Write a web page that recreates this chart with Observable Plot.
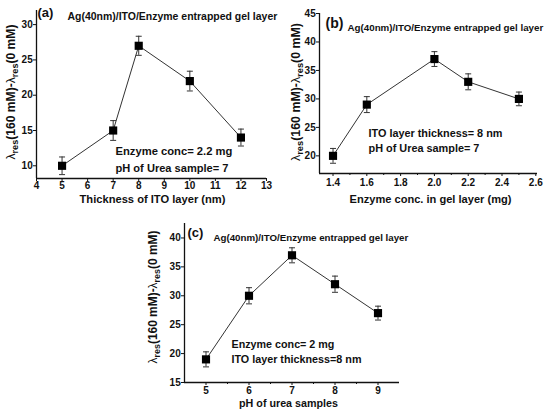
<!DOCTYPE html>
<html><head><meta charset="utf-8">
<script src="https://cdn.jsdelivr.net/npm/d3@7"></script>
<script src="https://cdn.jsdelivr.net/npm/@observablehq/plot@0.6"></script>
<style>
body{margin:0;background:#fff}
#wrap{position:relative;width:550px;height:411px;overflow:hidden;font-family:"Liberation Sans",Arial,sans-serif}
#wrap svg{position:absolute}
</style>
</head><body><div id="wrap"></div>
<script>
// Panel (a): thickness of ITO layer
const thicknessNm = [5, 7, 8, 10, 12];
const shiftA = [10, 15, 27, 22, 14];
const errA = [1.25, 1.4, 1.35, 1.4, 1.2];
const xTicksA = [4, 5, 6, 7, 8, 9, 10, 11, 12, 13];
const yTicksA = [10, 15, 20, 25, 30];

// Panel (b): enzyme concentration
const enzymeMg = [1.4, 1.6, 2.0, 2.2, 2.5];
const shiftB = [20, 29, 37, 33, 30];
const errB = [1.3, 1.4, 1.3, 1.4, 1.2];
const xTicksB = [1.4, 1.6, 1.8, 2.0, 2.2, 2.4, 2.6];
const xMinorB = [1.5, 1.7, 1.9, 2.1, 2.3, 2.5];
const yTicksB = [20, 25, 30, 35, 40, 45];

// Panel (c): pH of urea samples
const phValues = [5, 6, 7, 8, 9];
const shiftC = [19, 30, 37, 32, 27];
const errC = [1.3, 1.4, 1.3, 1.4, 1.2];
const xTicksC = [5, 6, 7, 8, 9];
const xMinorC = [5.5, 6.5, 7.5, 8.5];
const yTicksC = [15, 20, 25, 30, 35, 40];

const TITLE = "Ag(40nm)/ITO/Enzyme entrapped gel layer";
const FONT = '"Liberation Sans", Arial, sans-serif';
const INK = "#111";
const cap = {draw(ctx, size) { const r = Math.sqrt(size / Math.PI); ctx.moveTo(-r, 0); ctx.lineTo(r, 0); }};

function panel(c) {
  const data = c.x.map((x, i) => ({x, y: c.y[i], e: c.e[i]}));
  const at = (p) => ({frameAnchor: "top-left", dx: p[0] - c.ml, dy: p[1] - c.mt});
  const txt = (s, p, opts) => Plot.text([s], {text: d => d, ...at(p), lineAnchor: "bottom", textAnchor: "start", fill: INK, fontWeight: "bold", fontFamily: FONT, ...opts});
  const marks = [
    Plot.ruleX([c.xDomain[0]], {stroke: INK, strokeWidth: 1.3}),
    Plot.ruleY([c.yDomain[0]], {stroke: INK, strokeWidth: 1.3}),
    Plot.axisX(c.xTicks, {tickSize: 3, tickPadding: c.xPad, tickFormat: c.xFmt, label: null, fontSize: 10, fontWeight: "bold", fill: INK, stroke: INK}),
    Plot.axisY(c.yTicks, {tickSize: 3, tickPadding: 0.8, label: null, fontSize: 10, fontWeight: "bold", fill: INK, stroke: INK}),
  ];
  if (c.xMinor) marks.push(Plot.axisX(c.xMinor, {tickSize: 2, text: null, label: null, stroke: INK}));
  marks.push(
    Plot.line(data, {x: "x", y: "y", stroke: "#333", strokeWidth: 1}),
    Plot.ruleX(data, {x: "x", y1: d => d.y - d.e, y2: d => d.y + d.e, stroke: "#333", strokeWidth: 1}),
    Plot.dot(data, {x: "x", y: d => d.y + d.e, symbol: cap, r: 3, stroke: "#333", fill: "none", strokeWidth: 1}),
    Plot.dot(data, {x: "x", y: d => d.y - d.e, symbol: cap, r: 3, stroke: "#333", fill: "none", strokeWidth: 1}),
    Plot.dot(data, {x: "x", y: "y", symbol: "square", r: 4.6, fill: "#000", stroke: "none"}),
    txt(c.tag, c.tagPos, {fontSize: c.tagSize}),
    txt(TITLE, c.titlePos, {fontSize: 11}),
    txt(c.notes[0], c.notePos[0], {fontSize: 11}),
    txt(c.notes[1], c.notePos[1], {fontSize: 11}),
    txt(c.xLabel, c.xLabelPos, {fontSize: 11, textAnchor: "middle"})
  );
  const svg = Plot.plot({
    width: c.width, height: c.height,
    marginLeft: c.ml, marginRight: c.mr, marginTop: c.mt, marginBottom: c.mb,
    x: {domain: c.xDomain}, y: {domain: c.yDomain},
    style: {fontFamily: FONT, background: "transparent", overflow: "visible", color: INK},
    marks
  });
  svg.style.left = c.left + "px";
  svg.style.top = c.top + "px";
  document.getElementById("wrap").appendChild(svg);

  // size the annotation texts to the widths they take in the reference
  const widths = new Map([[TITLE, c.titleW], [c.notes[0], c.noteW[0]], [c.notes[1], c.noteW[1]], [c.xLabel, c.xLabelW]]);
  for (const el of svg.querySelectorAll("text")) {
    const target = widths.get(el.textContent);
    if (!target) continue;
    const w = el.getComputedTextLength();
    const fs = parseFloat(getComputedStyle(el).fontSize);
    if (w > 0) el.setAttribute("font-size", (fs * target / w).toFixed(2));
  }

  // rotated y-axis title with subscripts
  const t = d3.select(svg).append("text")
    .attr("text-anchor", "middle").attr("font-family", FONT)
    .attr("font-size", 12).attr("font-weight", "bold").attr("fill", INK);
  const parts = [["λ", 0, 12, "normal"], ["res", 3, 9, "bold"], ["(160 mM)-", -3, 12, "bold"], ["λ", 0, 12, "normal"], ["res", 3, 9, "bold"], ["(0 mM)", -3, 12, "bold"]];
  parts.forEach(([s, dy, fs, fw]) => t.append("tspan").attr("dy", dy).attr("font-size", fs).attr("font-weight", fw).text(s));
  const len = t.node().getComputedTextLength();
  const k = len > 0 ? c.yLabelW / len : 1;
  t.attr("transform", `translate(${c.yLabelPos[0]},${c.yLabelPos[1]}) rotate(-90) scale(${k.toFixed(3)})`);
}

panel({
  left: 0, top: 0, width: 275, height: 205, ml: 36, mr: 9, mt: 10, mb: 27,
  x: thicknessNm, y: shiftA, e: errA, xDomain: [4, 13], yDomain: [8.2, 32],
  xTicks: xTicksA, yTicks: yTicksA, xPad: 0.5, xFmt: d3.format("d"),
  tag: "(a)", tagPos: [37, 16], tagSize: 13,
  titlePos: [67, 19], titleW: 210,
  notes: ["Enzyme conc= 2.2 mg", "pH of Urea sample= 7"], notePos: [[115, 154], [115, 171]], noteW: [117, 113],
  xLabel: "Thickness of ITO layer (nm)", xLabelPos: [152, 202], xLabelW: 146,
  yLabelPos: [15, 92], yLabelW: 135
});
panel({
  left: 275, top: 0, width: 275, height: 205, ml: 44, mr: 13, mt: 13, mb: 32,
  x: enzymeMg, y: shiftB, e: errB, xDomain: [1.32, 2.61], yDomain: [16.9, 45],
  xTicks: xTicksB, xMinor: xMinorB, yTicks: yTicksB, xPad: 2, xFmt: d3.format(".1f"),
  tag: "(b)", tagPos: [50, 27], tagSize: 14,
  titlePos: [72, 30], titleW: 196,
  notes: ["ITO layer thickness= 8 nm", "pH of Urea sample= 7"], notePos: [[93, 136], [93, 151]], noteW: [134, 111],
  xLabel: "Enzyme conc. in gel layer (mg)", xLabelPos: [155, 202], xLabelW: 162,
  yLabelPos: [25, 92], yLabelW: 138
});
panel({
  left: 130, top: 205, width: 290, height: 206, ml: 54, mr: 21, mt: 18, mb: 29,
  x: phValues, y: shiftC, e: errC, xDomain: [4.5, 9.5], yDomain: [15, 42.5],
  xTicks: xTicksC, xMinor: xMinorC, yTicks: yTicksC, xPad: 1, xFmt: d3.format("d"),
  tag: "(c)", tagPos: [57, 31], tagSize: 13,
  titlePos: [83, 35], titleW: 195,
  notes: ["Enzyme conc= 2 mg", "ITO layer thickness=8 nm"], notePos: [[101, 142], [101, 157]], noteW: [103, 130],
  xLabel: "pH of urea samples", xLabelPos: [158, 201], xLabelW: 99,
  yLabelPos: [27, 92], yLabelW: 133
});
</script>
</body></html>
